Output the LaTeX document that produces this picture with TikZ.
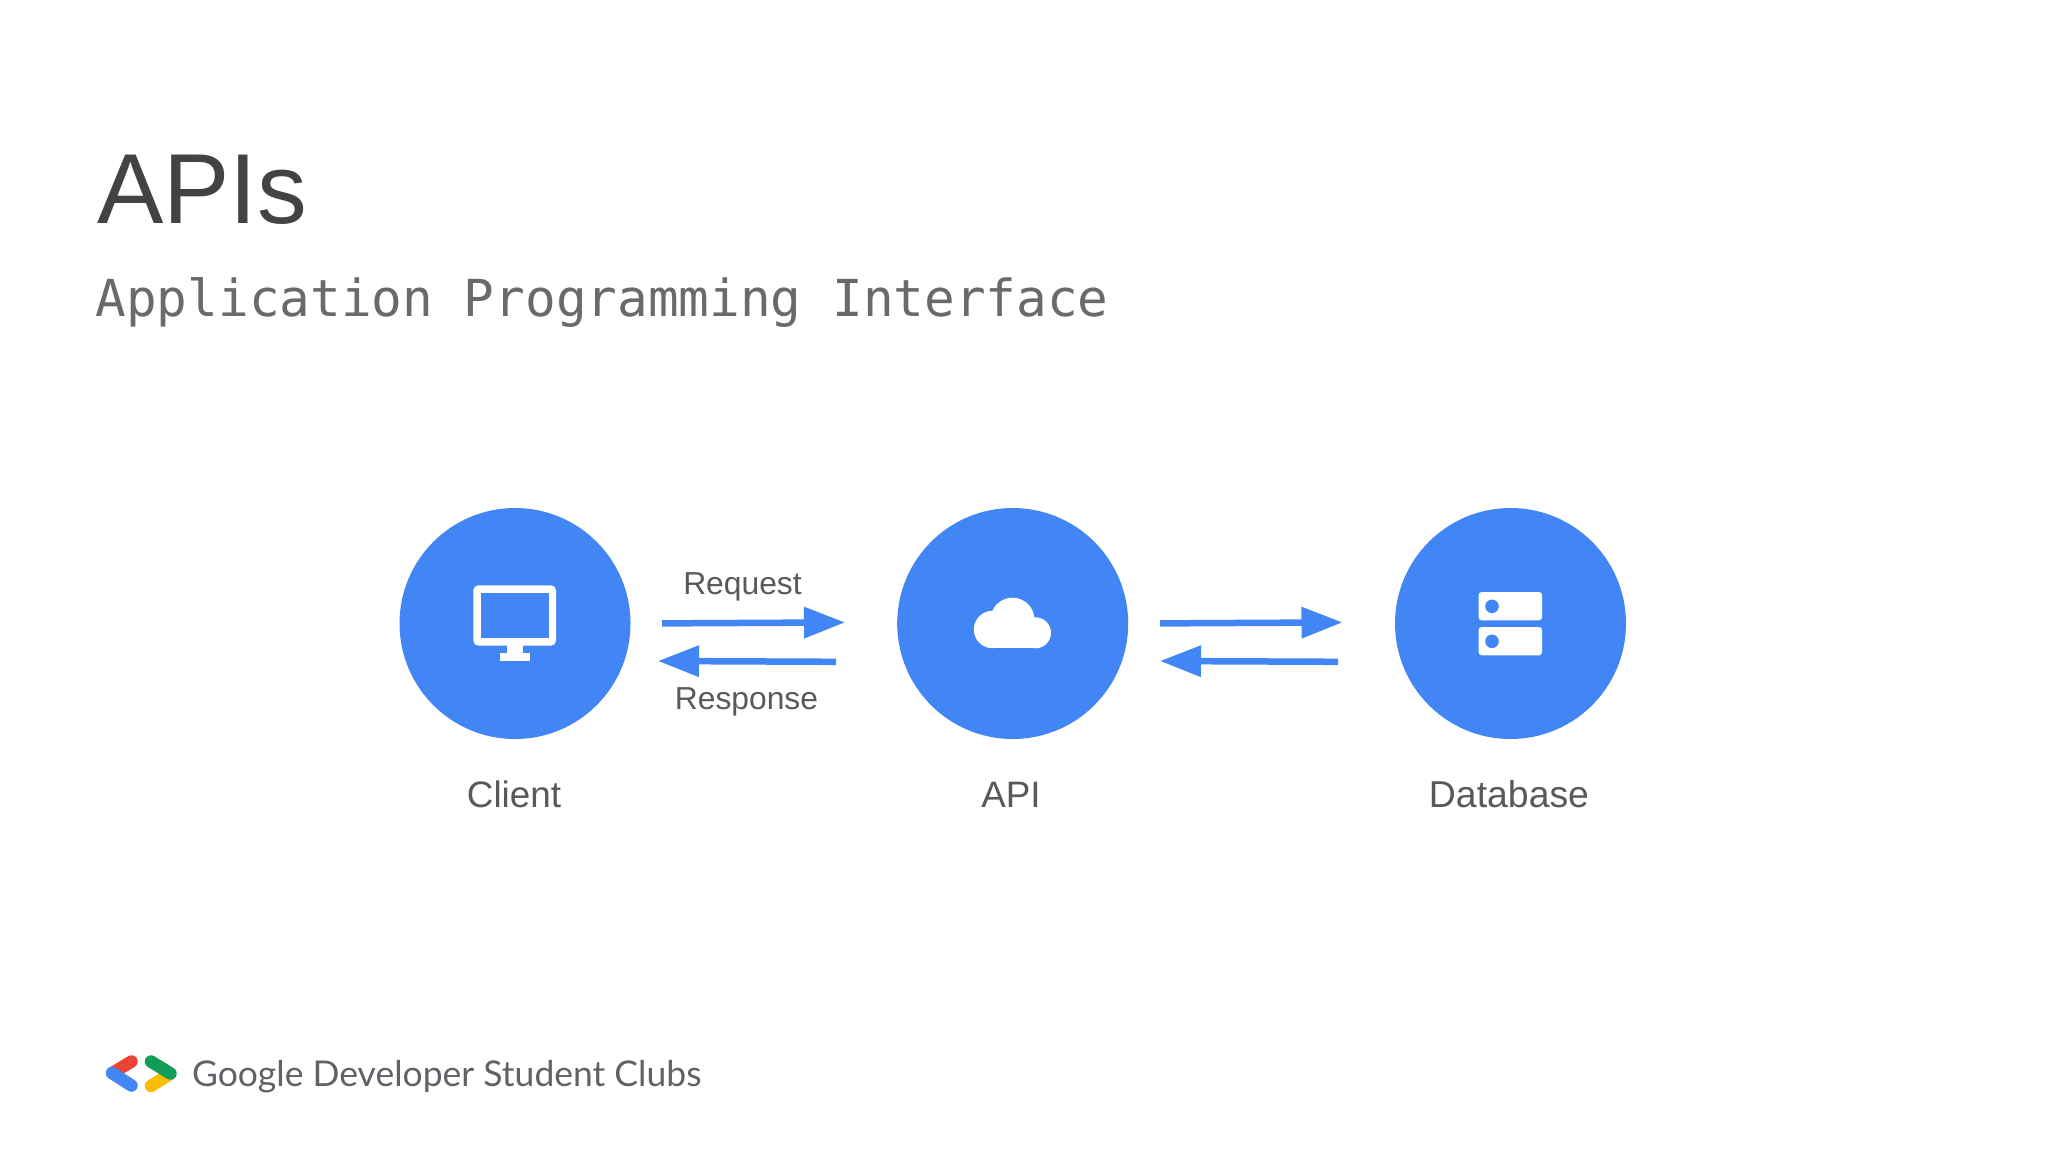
\documentclass[tikz,border=0pt]{standalone}
\usepackage{fontspec}
\usetikzlibrary{arrows.meta}
\setmainfont{Liberation Sans}
\newfontfamily\submono{DejaVu Sans Mono}
\newfontfamily\logofont{Lato}
\definecolor{gblue}{HTML}{4285F4}
\definecolor{titlegray}{HTML}{434343}
\definecolor{subgray}{HTML}{6A6A6A}
\definecolor{labelgray}{HTML}{595959}
\definecolor{logogray}{HTML}{5F6368}
\definecolor{gred}{HTML}{EA4335}
\definecolor{ggreen}{HTML}{0F9D58}
\definecolor{gyellow}{HTML}{FBBC04}
\tikzset{
  bubble/.style={circle,fill=gblue,draw=none,inner sep=0pt,minimum size=231pt},
  txt/.style={inner sep=0pt,outer sep=0pt},
  biglabel/.style={txt,anchor=base,text=labelgray,font=\fontsize{36.8}{40}\selectfont},
  smalllabel/.style={txt,anchor=base,text=labelgray,font=\fontsize{31.8}{36}\selectfont},
  flow/.style={draw=gblue,line width=6.5pt,-{Triangle[length=41pt,width=30pt,fill=gblue]}},
  logostroke/.style={line width=12.5pt,line cap=round}
}
\begin{document}
\begin{tikzpicture}[x=1pt,y=-1pt]
\useasboundingbox (0,0) rectangle (2048,1152);
\fill[white] (0,0) rectangle (2048,1152);
% titles
\node[txt,anchor=base west,text=titlegray,font=\fontsize{99.5}{100}\selectfont] (title) at (97,223) {APIs};
\node[txt,anchor=base west,text=subgray,font=\submono\fontsize{51}{56}\selectfont] (subtitle) at (95.5,316.5) {Application Programming Interface};
% circles
\node[bubble] (client) at (515,623.5) {};
\node[bubble] (api) at (1012.7,623.5) {};
\node[bubble] (db) at (1510.5,623.5) {};
% labels
\node[biglabel] (clientlabel) at (514,807.5) {Client};
\node[biglabel] (apilabel) at (1011,807.5) {API};
\node[biglabel] (dblabel) at (1509,807.5) {\fontsize{37.4}{40}\selectfont Database};
\node[smalllabel] (reqlabel) at (742.5,594) {Request};
\node[smalllabel] (resplabel) at (746.5,709.5) {Response};
% connector ends
\coordinate (reqa) at (662,623.4);
\coordinate (reqb) at (845,622.4);
\coordinate (respa) at (836,661.8);
\coordinate (respb) at (658,661);
\coordinate (dbreqa) at (1160,623.4);
\coordinate (dbreqb) at (1342.5,622.4);
\coordinate (dbrespa) at (1338,661.8);
\coordinate (dbrespb) at (1160,661);
\draw[flow] (reqa) -- (reqb);
\draw[flow] (respa) -- (respb);
\draw[flow] (dbreqa) -- (dbreqb);
\draw[flow] (dbrespa) -- (dbrespb);
% monitor icon
\fill[white,rounded corners=5pt] (473.3,585.3) rectangle (556,645.7);
\fill[gblue] (481,592.7) rectangle (548.7,638);
\fill[white] (507.3,645) rectangle (522.7,654);
\fill[white] (500,653.3) rectangle (530,660.7);
% cloud icon
\fill[white] (992.5,629.5) circle (18.7);
\fill[white] (1012.5,619.7) circle (22);
\fill[white] (1035.5,632.8) circle (15.5);
\fill[white] (992.5,625) rectangle (1035.5,648.3);
% database icon
\fill[white,rounded corners=3pt] (1478.6,592) rectangle (1542,620.3);
\fill[white,rounded corners=3pt] (1478.6,627) rectangle (1542,655.3);
\fill[gblue] (1492,606.3) circle (6.8);
\fill[gblue] (1492,641.3) circle (6.8);
% logo
\draw[logostroke,gred] (112.5,1073) -- (131.5,1061.5);
\draw[logostroke,gblue] (112,1073) -- (131.5,1085.5);
\draw[logostroke,gyellow] (151,1086) -- (170,1074);
\draw[logostroke,ggreen] (151,1061.5) -- (170.5,1073.5);
\node[txt,anchor=base west,text=logogray,font=\logofont\fontsize{35.5}{40}\selectfont] (logotext) at (192,1086) {Google Developer Student Clubs};
\end{tikzpicture}
\end{document}
